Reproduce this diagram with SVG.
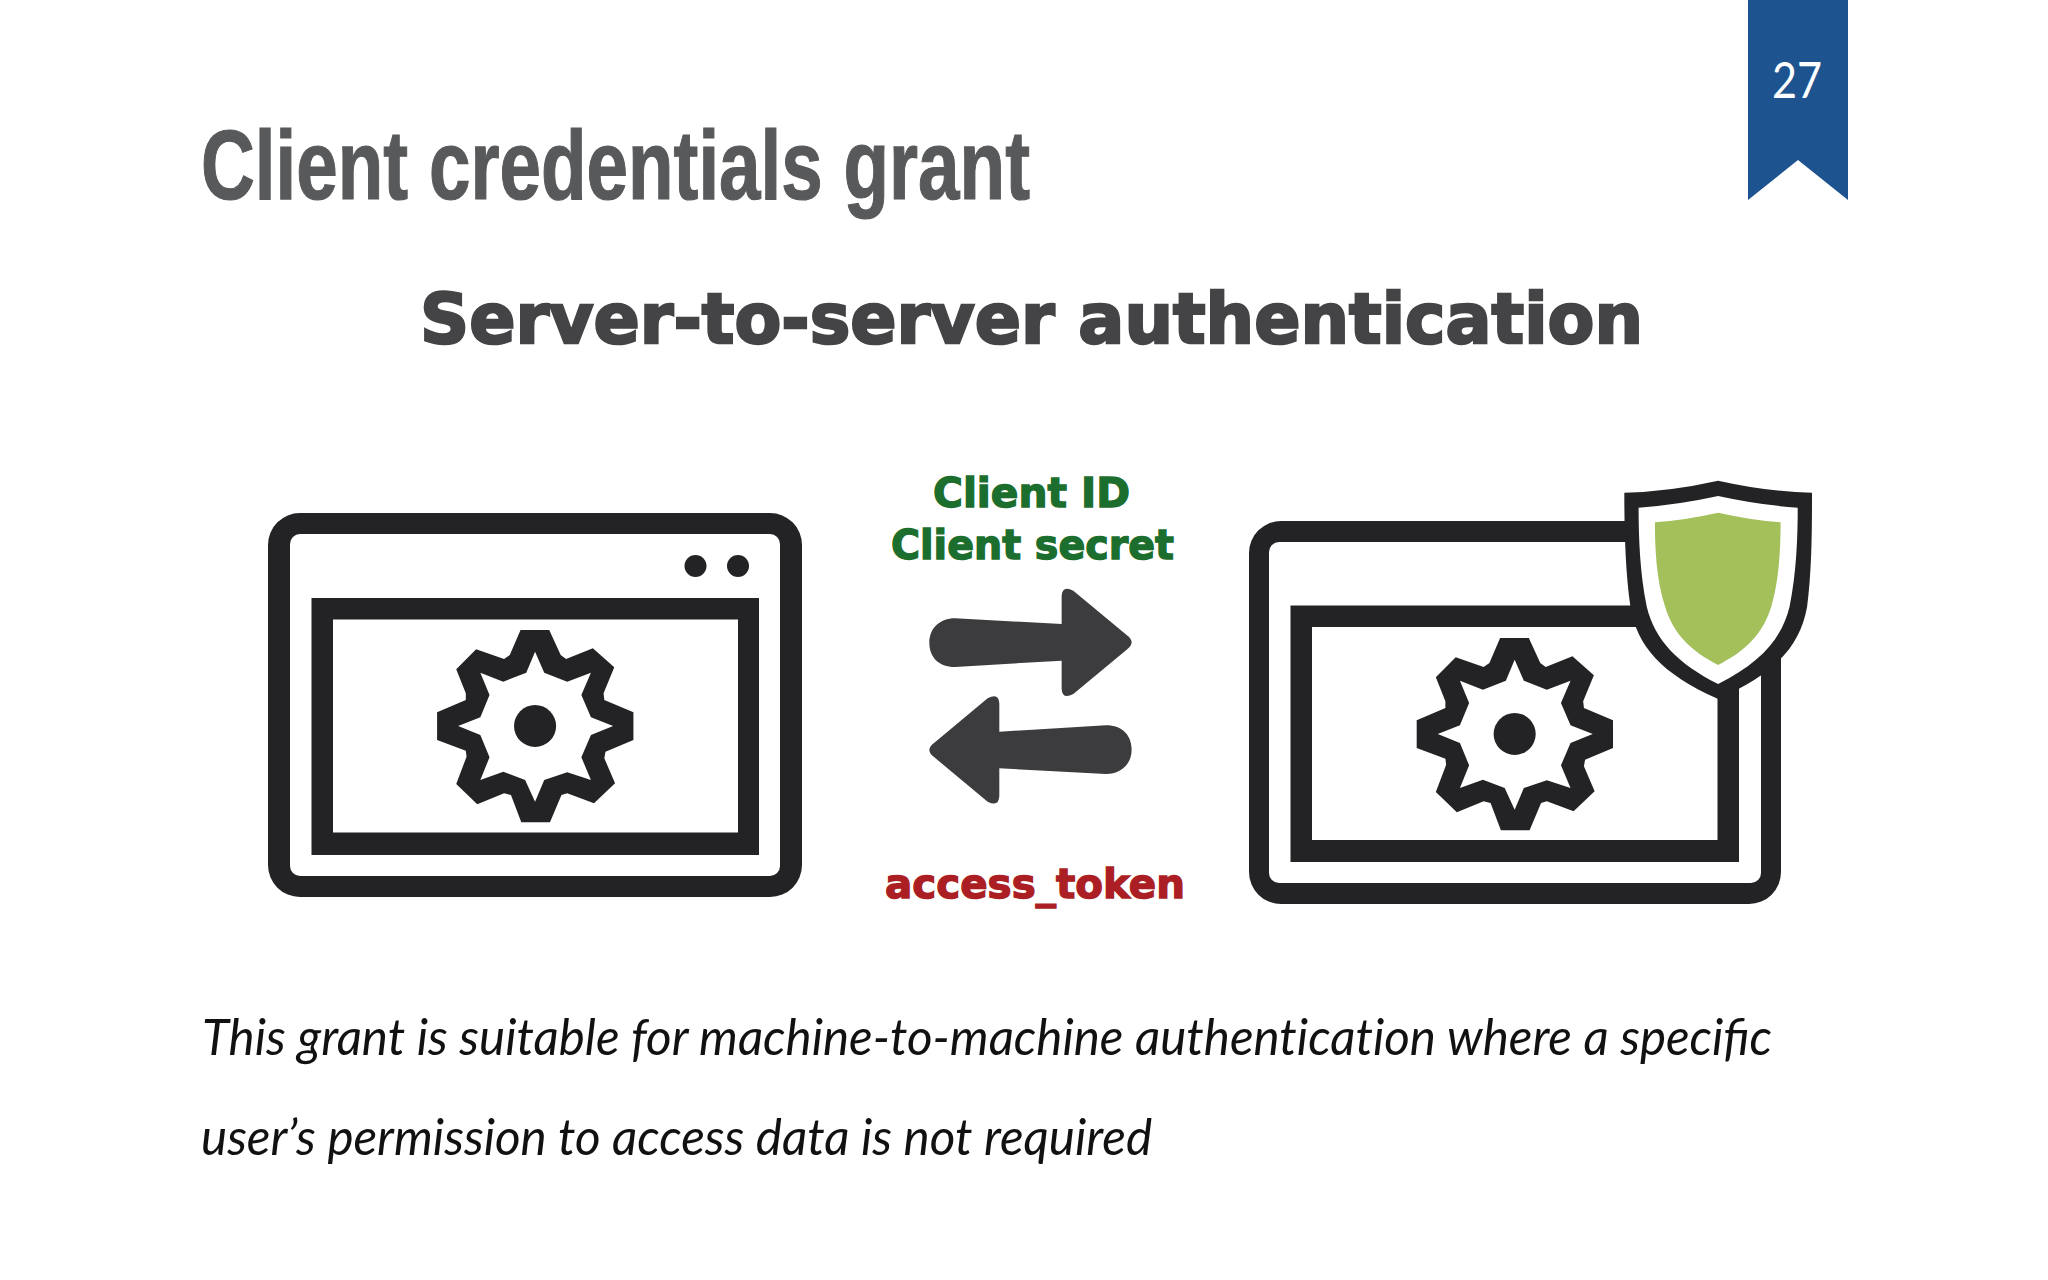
<svg xmlns="http://www.w3.org/2000/svg" width="2048" height="1280" viewBox="0 0 2048 1280">
<style>
.ink{fill:#232325}
.white{fill:#fff}
.title{font-family:"Liberation Sans Narrow","Liberation Sans",sans-serif;font-weight:700;font-size:98px;fill:#58595b;stroke:#58595b;stroke-width:1.2px}
.sub{font-family:"DejaVu Sans",sans-serif;font-weight:700;font-size:70px;fill:#444446;stroke:#444446;stroke-width:2.5px}
.lab{font-family:"DejaVu Sans",sans-serif;font-weight:700;font-size:41px;stroke-width:1.4px}
.green{fill:#1b6e2d;stroke:#1b6e2d}
.red{fill:#ab1f24;stroke:#ab1f24}
.body{font-family:"Lato","Open Sans",sans-serif;font-style:italic;font-size:50px;fill:#111;font-variant-ligatures:none}
.lig{font-variant-ligatures:normal}
.num{font-family:"Lato","Open Sans",sans-serif;font-size:50px;fill:#fff}
.arrow{fill:#3c3c3e}
</style>
<defs>
<g id="gear">
<path class="ink" d="M733 450L808 450L838 525L852 537L922 505L978 562L950 640L952 660L1028 697L1028 780L955 815L952 835L980 910L925 970L855 940L840 945L810 1027L735 1027L708 945L690 940L620 973L565 912L592 830L590 812L515 780L515 697L590 660L590 640L565 568L617 508L690 537L705 525Z"/>
<path class="white" d="M771 515L795 578L855 605L917 578L892 645L917 712L975 738L917 765L892 832L917 900L855 877L795 900L771 965L745 900L688 875L628 900L652 832L628 765L570 738L628 712L652 645L628 578L688 605L748 578Z"/>
<ellipse class="ink" cx="771" cy="738" rx="55" ry="63"/>
</g>
</defs>
<rect width="2048" height="1280" fill="#fff"/>
<g id="bookmark">
<path fill="#1d538f" d="M1748 0H1848V200L1798 160L1748 200Z"/>
<text class="num" x="1772" y="98" textLength="50" lengthAdjust="spacingAndGlyphs">27</text>
</g>
<text class="title" x="201" y="199" textLength="829" lengthAdjust="spacingAndGlyphs">Client credentials grant</text>
<text class="sub" x="420" y="343" textLength="1223" lengthAdjust="spacingAndGlyphs">Server-to-server authentication</text>
<g id="client">
<path class="ink" fill-rule="evenodd" d="M300 513H770A32 32 0 0 1 802 545V865A32 32 0 0 1 770 897H300A32 32 0 0 1 268 865V545A32 32 0 0 1 300 513ZM300 534A10 10 0 0 0 290 544V866A10 10 0 0 0 300 876H770A10 10 0 0 0 780 866V544A10 10 0 0 0 770 534Z"/>
<path class="ink" fill-rule="evenodd" d="M311.500 598H759V855H311.500ZM333 619.500V832.500H738V619.500Z"/>
<circle class="ink" cx="695.500" cy="566" r="11"/>
<circle class="ink" cx="738" cy="566" r="11"/>
<use href="#gear" transform="translate(240 480) scale(.3827 .3333)"/>
</g>
<g id="server">
<path class="ink" fill-rule="evenodd" d="M1281 521H1749A32 32 0 0 1 1781 553V872A32 32 0 0 1 1749 904H1281A32 32 0 0 1 1249 872V553A32 32 0 0 1 1281 521ZM1279 542A10 10 0 0 0 1269 552V873A10 10 0 0 0 1279 883H1751A10 10 0 0 0 1761 873V552A10 10 0 0 0 1751 542Z"/>
<path class="ink" fill-rule="evenodd" d="M1290.500 605.500H1739V862H1290.500ZM1312 627V840H1717.500V627Z"/>
<use href="#gear" transform="translate(1219.600 488) scale(.3827 .3333)"/>
<g id="shield" transform="translate(1200 460) scale(.408 .3333)">
<path class="ink" d="M1270 62Q1150 95 1040 98C1040 200 1042 330 1055 440C1072 560 1130 640 1270 717C1410 640 1470 560 1488 440C1500 330 1500 200 1500 98Q1390 95 1270 62Z"/>
<path class="white" d="M1270 108Q1170 135 1075 143C1075 230 1078 340 1095 440C1115 540 1170 610 1270 672C1370 610 1425 540 1445 440C1462 340 1465 230 1465 143Q1370 135 1270 108Z"/>
<path fill="#a3c05b" d="M1270 158Q1190 180 1115 187C1115 260 1118 360 1140 440C1160 520 1200 570 1270 615C1340 570 1380 520 1400 440C1420 360 1423 260 1423 187Q1350 180 1270 158Z"/>
</g>
</g>
<g id="connectors" transform="translate(860 450) scale(.3333)">
<path id="arrow-request" class="arrow" d="M285 505L605 522L605 438Q607 405 640 422L800 555Q830 577 800 599L640 732Q607 750 605 717L605 632L285 651C235 651 208 620 208 578C208 535 240 505 285 505Z"/>
<path id="arrow-response" class="arrow" transform="rotate(180 511.500 738.500)" d="M285 505L605 522L605 438Q607 405 640 422L800 555Q830 577 800 599L640 732Q607 750 605 717L605 632L285 651C235 651 208 620 208 578C208 535 240 505 285 505Z"/>
</g>
<g id="labels">
<text class="lab green" x="933" y="507" textLength="197" lengthAdjust="spacingAndGlyphs">Client ID</text>
<text class="lab green" x="891" y="559" textLength="283" lengthAdjust="spacingAndGlyphs">Client secret</text>
<text class="lab red" x="885" y="898" textLength="300" lengthAdjust="spacingAndGlyphs">access_token</text>
</g>
<text class="body" x="202" y="1055" textLength="1570" lengthAdjust="spacingAndGlyphs">This grant is suitable for machine-to-machine authentication where a <tspan class="lig">specific</tspan></text>
<text class="body" x="201" y="1155" textLength="951" lengthAdjust="spacingAndGlyphs">user’s permission to access data is not required</text>
</svg>
